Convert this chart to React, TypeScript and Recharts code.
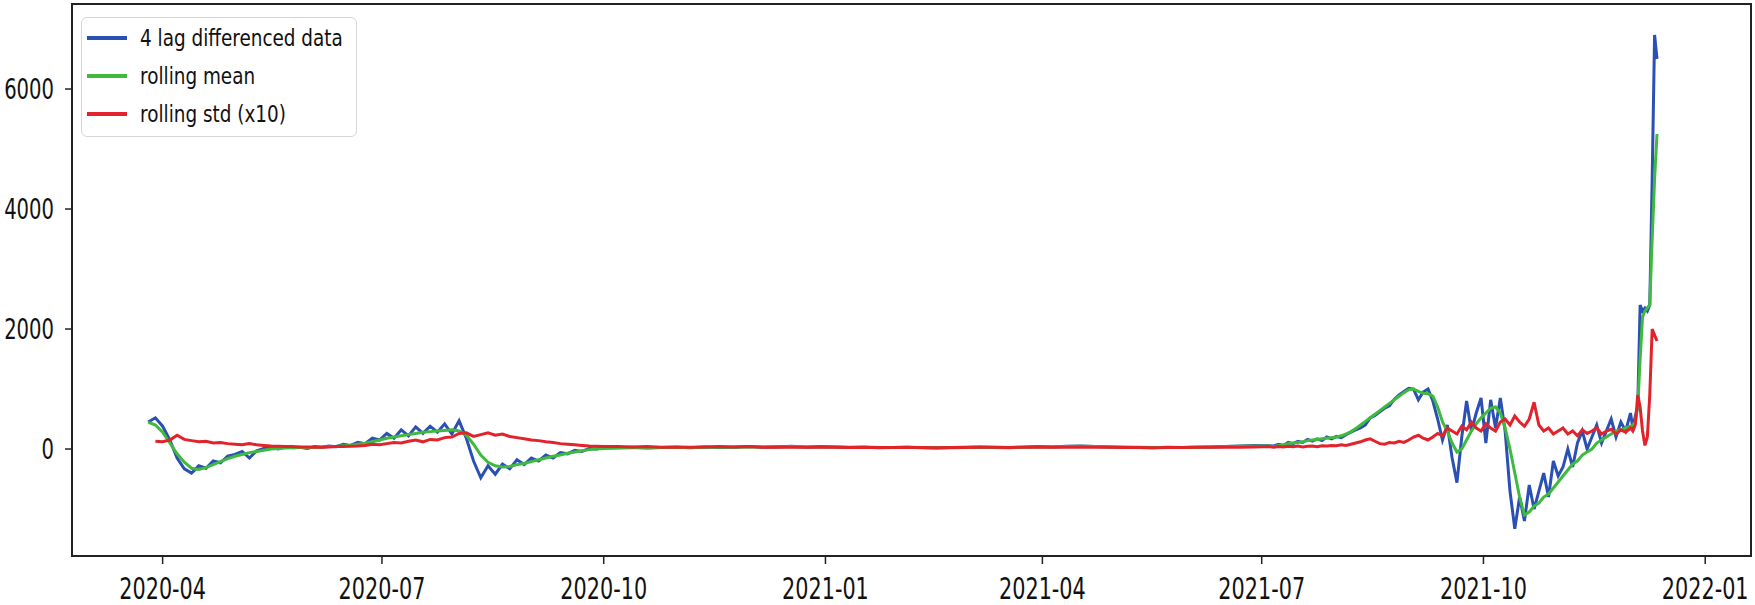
import { LineChart, Line, XAxis, YAxis, ReferenceArea } from "recharts";

// x is a day number counted from 2020-01-01 (day 0)
const DAY_TICKS = [91, 182, 274, 366, 456, 547, 639, 731];
const DAY_TICK_LABELS = ["2020-04", "2020-07", "2020-10", "2021-01", "2021-04", "2021-07", "2021-10", "2022-01"];
const VALUE_TICKS = [0, 2000, 4000, 6000];

// 4 lag differenced data
const DIFF_2020 = [
  450, 520, 380, 150, -150, -330, -400, -280, -320, -200,
  -230, -120, -90, -40, -150, -30, 10, 30, 0, 40,
  20, 30, 10, 40, 30, 50, 40, 80, 60, 110,
  90, 180, 150, 260, 180, 320, 220, 370, 260, 380,
  280, 420, 250, 470, 180, -200, -480, -280, -420, -250,
  -330, -180, -260, -150, -200, -100, -150, -60, -80, -20,
  -40, 10, 0, 20,
]; // days 85..274, every 3
const DIFF_QUIET = [
  20, 30, 15, 25, 30, 20, 35, 25, 30, 40,
  30, 35, 45, 30, 40, 35, 25, 30, 20, 25,
  30, 20, 15, 25, 30, 35, 25, 20, 30, 40,
  35, 45, 50, 40, 35, 30, 25, 20, 30, 25,
  30, 35, 40, 50, 60, 55,
]; // days 280..550, every 6
const DIFF_2021 = [
  50, 80, 60, 110, 90, 130, 110, 160, 130, 170,
  140, 200, 170, 210, 190, 240, 280, 320, 350, 400,
  520, 560, 620, 680, 720, 830, 900, 960, 1010, 1000,
  820, 950, 1000, 800, 500, 150, 400, -150, -560, 200,
  800, 300, 600, 850, 100, 820, 350, 850, 300, -700,
  -1330, -800, -1200, -600, -1000, -700, -400, -800, -200, -450,
  -300, 0, -300, 100, 300, 0, 200, 400, 100, 300,
  500, 200, 450, 300, 600,
]; // days 552..700, every 2
const DIFF_END = [350, 550, 700, 2400, 2300, 2350, 2300, 2400, 4500, 6900, 6500]; // days 701..711

// rolling mean
const MEAN_2020 = [
  450, 400, 280, 100, -80, -220, -320, -340, -310, -260,
  -210, -160, -120, -90, -60, -40, -20, 0, 10, 15,
  20, 25, 25, 30, 30, 40, 45, 55, 65, 80,
  95, 120, 150, 180, 200, 220, 240, 260, 280, 290,
  300, 310, 320, 300, 230, 80, -100, -220, -280, -300,
  -290, -260, -240, -210, -180, -150, -120, -100, -70, -50,
  -30, -10, 0, 10,
];
const MEAN_QUIET = [
  15, 20, 20, 25, 25, 25, 30, 30, 30, 35,
  35, 35, 40, 35, 35, 35, 30, 30, 25, 25,
  25, 25, 20, 20, 25, 30, 30, 25, 30, 35,
  35, 40, 45, 40, 35, 30, 28, 25, 25, 25,
  30, 35, 40, 45, 50, 50,
];
const MEAN_2021 = [
  40, 60, 70, 90, 100, 110, 120, 140, 150, 160,
  170, 180, 190, 200, 220, 250, 290, 340, 400, 460,
  520, 580, 640, 700, 760, 820, 880, 940, 990, 1000,
  960, 930, 920, 880, 700, 450, 300, 100, -50, 0,
  150, 300, 420, 520, 600, 680, 700, 600, 350, 0,
  -400, -800, -1100, -1050, -950, -900, -800, -750, -650, -550,
  -450, -350, -250, -200, -100, -50, 0, 100, 150, 200,
  250, 300, 320, 350, 380,
];
const MEAN_END = [400, 450, 700, 1500, 2200, 2300, 2350, 2400, 3500, 4500, 5250];

// rolling std (x10)
const STD_2020 = [
  130, 120, 150, 230, 160, 140, 120, 130, 100, 110,
  90, 80, 70, 90, 70, 60, 50, 45, 40, 40,
  35, 35, 30, 30, 35, 40, 40, 45, 50, 60,
  80, 70, 90, 110, 100, 130, 150, 120, 160, 150,
  190, 200, 260, 270, 210, 240, 270, 230, 250, 210,
  190, 170, 150, 140, 120, 110, 90, 80, 70, 60,
  50, 45, 40,
]; // days 88..274, every 3
const STD_QUIET = [
  40, 35, 40, 30, 35, 30, 35, 40, 35, 40,
  30, 35, 30, 30, 35, 30, 25, 30, 25, 25,
  30, 25, 20, 25, 25, 30, 30, 25, 30, 35,
  30, 30, 35, 30, 30, 25, 25, 20, 25, 25,
  30, 30, 35, 30, 35, 40,
];
const STD_2021 = [
  30, 40, 35, 45, 40, 50, 35, 45, 50, 40,
  55, 50, 60, 55, 70, 60, 80, 100, 120, 150,
  170, 130, 90, 80, 110, 100, 130, 110, 150, 200,
  230, 180, 150, 200, 260, 220, 350, 300, 250, 380,
  320, 450, 350, 300, 420, 350, 300, 450, 500, 400,
  550, 450, 380, 500, 780, 400, 300, 350, 250, 300,
  350, 250, 300, 220, 320, 260, 300, 350, 250, 300,
  330, 250, 320, 280, 350,
];
const STD_END = [300, 400, 900, 700, 300, 60, 200, 900, 2000, 1900, 1800];

type Segment = [number, number, number[]];

function toPoints(segments: Segment[]) {
  const out: { day: number; v: number }[] = [];
  for (const [start, step, values] of segments) {
    values.forEach((v, i) => out.push({ day: start + i * step, v }));
  }
  return out;
}

const diffPoints = toPoints([[85, 3, DIFF_2020], [280, 6, DIFF_QUIET], [552, 2, DIFF_2021], [701, 1, DIFF_END]]);
const meanPoints = toPoints([[85, 3, MEAN_2020], [280, 6, MEAN_QUIET], [552, 2, MEAN_2021], [701, 1, MEAN_END]]);
const stdPoints = toPoints([[88, 3, STD_2020], [280, 6, STD_QUIET], [552, 2, STD_2021], [701, 1, STD_END]]);

const X_DOMAIN: [number, number] = [53.4, 750];
const Y_DOMAIN: [number, number] = [-1783, 7417];

const BLUE = "#2b50b4";
const GREEN = "#3fba3f";
const RED = "#e2232b";
const FONT = "'DejaVu Sans', sans-serif";

function XTick(props: any) {
  const { x, y, payload } = props;
  const i = DAY_TICKS.indexOf(payload.value);
  return (
    <g transform={`translate(${x},${y}) scale(0.67,1)`}>
      <text x={0} y={0} dy={33} textAnchor="middle" fontSize={31} fontFamily={FONT} fill="#111">
        {DAY_TICK_LABELS[i]}
      </text>
    </g>
  );
}

function YTick(props: any) {
  const { y, payload } = props;
  return (
    <g transform={`translate(54,${y}) scale(0.7,1)`}>
      <text x={0} y={0} dy={10} textAnchor="end" fontSize={28} fontFamily={FONT} fill="#111">
        {payload.value}
      </text>
    </g>
  );
}

const LEGEND = [
  { label: "4 lag differenced data", color: BLUE },
  { label: "rolling mean", color: GREEN },
  { label: "rolling std (x10)", color: RED },
];

export default function App() {
  return (
    <div style={{ position: "absolute", left: 0, top: 0, width: 1755, height: 605, background: "#fff" }}>
      <LineChart width={1755} height={605} margin={{ top: 4, right: 4, left: 0, bottom: 0 }}>
        <XAxis
          type="number"
          dataKey="day"
          domain={X_DOMAIN}
          ticks={DAY_TICKS}
          tick={<XTick />}
          tickSize={8}
          height={49}
          axisLine={false}
          tickLine={{ stroke: "#222", strokeWidth: 1.5 }}
          allowDataOverflow
        />
        <YAxis
          type="number"
          domain={Y_DOMAIN}
          ticks={VALUE_TICKS}
          tick={<YTick />}
          tickSize={7}
          width={72}
          axisLine={false}
          tickLine={{ stroke: "#222", strokeWidth: 1.5 }}
          allowDataOverflow
        />
        <Line data={diffPoints} dataKey="v" stroke={BLUE} strokeWidth={3} dot={false} isAnimationActive={false} />
        <Line data={meanPoints} dataKey="v" stroke={GREEN} strokeWidth={3} dot={false} isAnimationActive={false} />
        <Line data={stdPoints} dataKey="v" stroke={RED} strokeWidth={3} dot={false} isAnimationActive={false} />
        <ReferenceArea
          x1={X_DOMAIN[0]}
          x2={X_DOMAIN[1]}
          y1={Y_DOMAIN[0]}
          y2={Y_DOMAIN[1]}
          fill="none"
          stroke="#222"
          strokeWidth={2}
          ifOverflow="visible"
        />
      </LineChart>
      <div
        style={{
          position: "absolute",
          left: 81,
          top: 17,
          width: 276,
          height: 120,
          boxSizing: "border-box",
          border: "1.5px solid #d6d6d6",
          borderRadius: 6,
          background: "rgba(255,255,255,0.85)",
          fontFamily: FONT,
        }}
      >
        {LEGEND.map((item, i) => (
          <div key={item.label} style={{ position: "absolute", left: 5, top: 20 + i * 38, height: 0 }}>
            <div style={{ position: "absolute", left: 0, top: -2, width: 40, height: 3.5, background: item.color }} />
            <div
              style={{
                position: "absolute",
                left: 53,
                top: -15,
                fontSize: 23,
                lineHeight: "30px",
                whiteSpace: "nowrap",
                color: "#111",
                transform: "scaleX(0.8)",
                transformOrigin: "left center",
              }}
            >
              {item.label}
            </div>
          </div>
        ))}
      </div>
    </div>
  );
}
